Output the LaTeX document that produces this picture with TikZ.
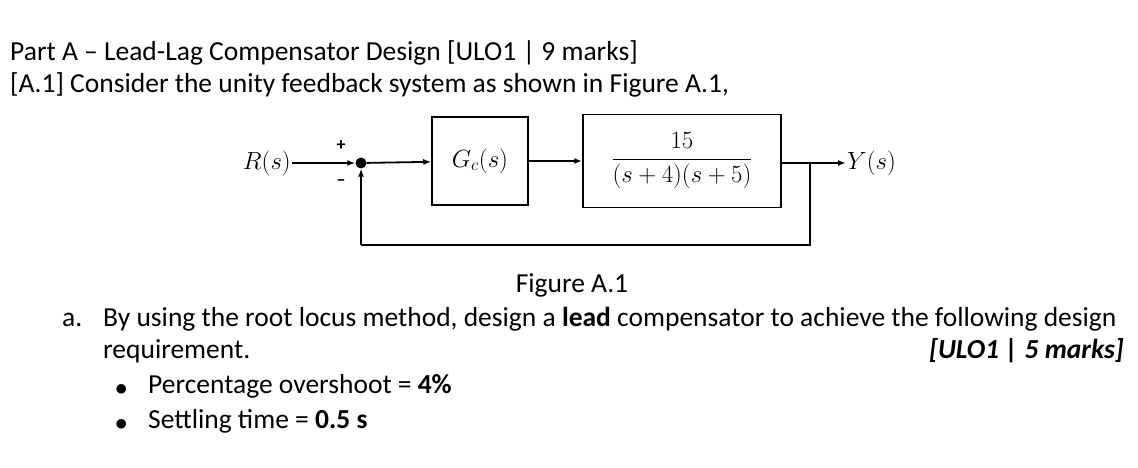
\documentclass[tikz,border=0pt]{standalone}
\usepackage{fontspec}
\setmainfont{Carlito}
\usetikzlibrary{arrows.meta}
\begin{document}
\begin{tikzpicture}[x=1pt,y=-1pt,
  txt/.style={anchor=base west,inner sep=0pt,font=\fontsize{27.5}{32}\selectfont},
  blk/.style={draw,line width=1.5pt,inner sep=0pt},
  sig/.style={line width=1.8pt,-{Latex[length=8pt,width=6pt]}},
  ln/.style={line width=1.8pt},
  mth/.style={font=\fontsize{24}{28}\selectfont}]
\useasboundingbox (0,0) rectangle (1138,468);
\node[txt] (l1) at (10,61) {Part A – Lead-Lag Compensator Design [ULO1 | 9 marks]};
\node[txt] (l2) at (10,93) {[A.1] Consider the unity feedback system as shown in Figure A.1,};
% block diagram
\node[mth,anchor=east,inner sep=1pt] (r) at (292,163) {$R(s)$};
\node[circle,fill,inner sep=0pt,minimum size=11pt] (sum) at (361,163) {};
\node[blk,minimum width=96pt,minimum height=88pt,mth] (gc) at (480,161) {$G_c(s)$};
\node[blk,minimum width=198pt,minimum height=93pt,mth] (gp) at (682,161) {$\displaystyle\frac{15}{(s+4)(s+5)}$};
\coordinate (br) at (810,163);
\node[mth,anchor=west,inner sep=1pt] (y) at (846,163) {$Y(s)$};
\coordinate (fb) at (810,245);
\coordinate (fs) at (361,245);
\draw[sig] (r) -- (sum);
\draw[sig] (sum) -- (gc);
\draw[sig] (gc) -- (gp);
\draw[sig] (gp.east|-br) -- (y);
\draw[ln] (br) -- (fb) -- (fs);
\draw[sig] (fs) -- (sum);
\node[font=\fontsize{18}{20}\selectfont\bfseries] (pl) at (341,146) {+};
\node[font=\fontsize{18}{20}\selectfont\bfseries] (mi) at (341,183) {–};
% text
\node[txt,anchor=base] (fig) at (572,292) {Figure A.1};
\node[txt] (a) at (62,326) {a.};
\node[txt] (t1) at (103,326) {By using the root locus method, design a \textbf{lead} compensator to achieve the following design};
\node[txt] (t2) at (103,358) {requirement.};
\node[txt,anchor=base east] (mk) at (1124,358) {\textbf{\textit{[ULO1 | 5 marks]}}};
\node[txt,font=\fontsize{34}{36}\selectfont] (b1) at (115,395) {$\bullet$};
\node[txt] (s1) at (148,393) {Percentage overshoot = \textbf{4\%}};
\node[txt,font=\fontsize{34}{36}\selectfont] (b2) at (115,430) {$\bullet$};
\node[txt] (s2) at (148,428) {Settling time = \textbf{0.5 s}};
\end{tikzpicture}
\end{document}
